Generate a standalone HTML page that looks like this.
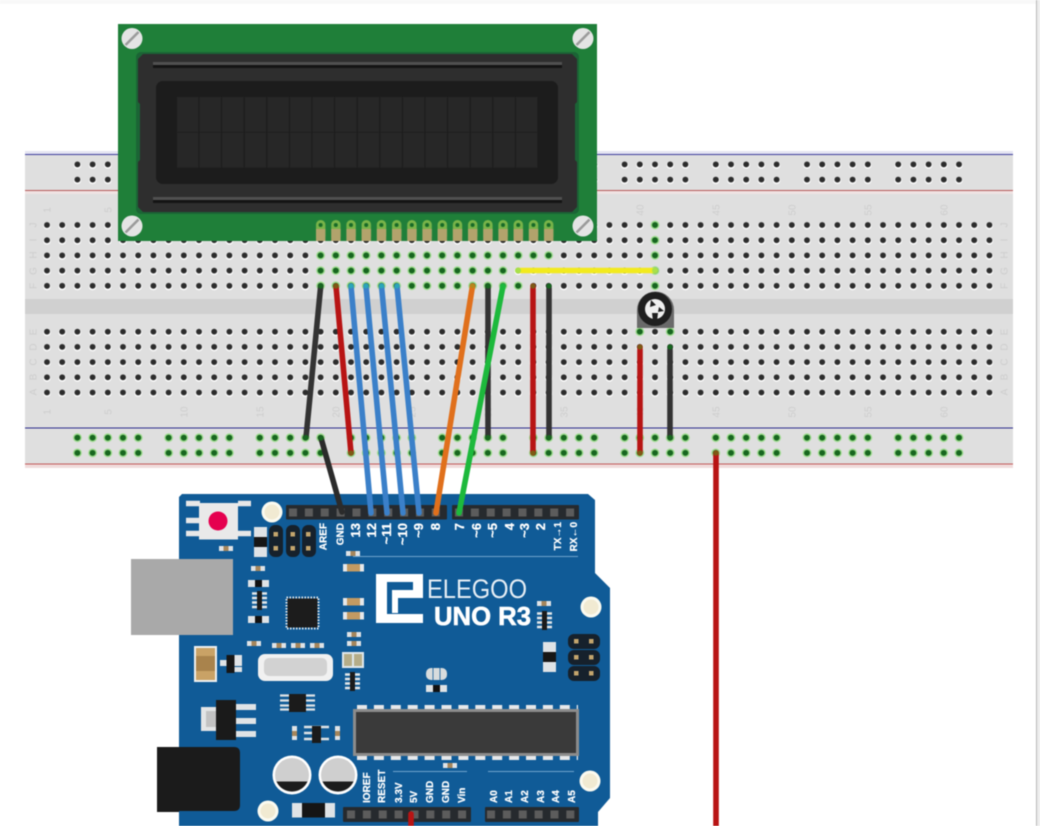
<!DOCTYPE html>
<html><head><meta charset="utf-8"><style>
html,body{margin:0;padding:0;background:#fff;width:1040px;height:826px;overflow:hidden}
svg{display:block;filter:blur(.6px)}
text{font-family:"Liberation Sans",sans-serif}
.n{font-size:10px;fill:#cdcdcd;text-anchor:middle}
.t{font-size:13px;font-weight:bold;fill:#fff;text-anchor:end;stroke:#fff;stroke-width:.25}
.s{font-size:10px;font-weight:bold;fill:#fff;text-anchor:end;stroke:#fff;stroke-width:.2}
.b{font-size:10px;font-weight:bold;fill:#fff;text-anchor:start;stroke:#fff;stroke-width:.2}
.w{stroke-width:5.6;stroke-linecap:round;fill:none}
</style></head><body>
<svg width="1040" height="826" viewBox="0 0 1040 826" xmlns="http://www.w3.org/2000/svg">
<defs>
<pattern id="h" patternUnits="userSpaceOnUse" x="39.4" y="217.4" width="15.2" height="15.2"><circle cx="7.6" cy="8.2" r="3.8" fill="#fff"/><circle cx="7.6" cy="7.6" r="3" fill="#2c2c2c"/></pattern>
<pattern id="h2" href="#h" y="324.1"/>
<pattern id="h3" href="#h" y="156.8"/>
<pattern id="g" patternUnits="userSpaceOnUse" x="39.4" y="217.4" width="15.2" height="15.2"><circle cx="7.6" cy="7.6" r="4.4" fill="#9ddc8e"/><circle cx="7.6" cy="7.6" r="3" fill="#17661f"/></pattern>
<pattern id="g2" href="#g" y="324.1"/>
<pattern id="g4" href="#g" y="430.1"/>
<pattern id="pin" patternUnits="userSpaceOnUse" x="313" y="220" width="15.2" height="21"><rect x="3" width="9.4" height="21" rx="4.7" fill="#79b449"/><rect x="3" y="9" width="9.4" height="12" fill="#b2a36c"/><circle cx="7.6" cy="5" r="2" fill="#176a27"/></pattern>
<pattern id="cell" patternUnits="userSpaceOnUse" x="177" y="97" width="22.6" height="35.7"><rect width="21.4" height="34.9" fill="#272727"/></pattern>
<pattern id="sq" patternUnits="userSpaceOnUse" x="285" y="505" width="15.87" height="15"><rect x="4" y="3.5" width="8" height="8" fill="#5c5c5c"/></pattern>
<pattern id="sq2" href="#sq" x="451"/>
<pattern id="sq3" href="#sq" x="343" y="807"/>
<pattern id="sq4" href="#sq" x="483" y="807"/>
<g id="r"><rect width="14" height="5" fill="#dfe3e6"/><rect x="4.5" width="5" height="5" fill="#a5865c"/></g>
<g id="c"><rect width="21" height="7.5" fill="#e6e8ea"/><rect x="4" width="13" height="7.5" fill="#c39a62"/></g>
<g id="ic"><rect width="15" height="19" fill="none"/><path d="M0 2.5H15M0 7H15M0 11.500H15M0 16H15" stroke="#e4e8ea" stroke-width="2.400"/><rect x="5" width="5" height="19" fill="#1b1b1b"/></g>
<g id="smd"><rect width="13" height="30" fill="#dfe3e6"/><rect y="10" width="13" height="10" fill="#161616"/></g>
<g id="scr"><circle r="10.500" fill="#e4e4e4"/><path d="M-6.500 6.500L6.500-6.500" stroke="#9a9a9a" stroke-width="2.500"/></g>
<g id="cap"><circle r="19.500" fill="#fff"/><circle r="17" fill="#cfcfcf"/><path d="M-15.500 6.500A17 17 0 0 0 15.500 6.500Z" fill="#1c1c1c"/></g>
<g id="hl"><circle r="10.500" fill="#fbfaf0"/><circle r="7.500" fill="#f1ead2"/></g>
<g id="gp"><rect width="4.500" height="4.500" fill="#c4a56d"/></g>
</defs>

<rect width="1040" height="826" fill="#fff"/>
<rect width="1036" height="4" fill="#f8f8f8"/>
<rect x="1036" width="1" height="826" fill="#b9b9b9"/>
<rect x="1037" width="3" height="826" fill="#ececec"/>

<!-- breadboard -->
<rect x="25" y="151" width="988" height="317" fill="#dfdfdf"/>
<rect x="25" y="299" width="988" height="15" fill="#d0d0d0"/>
<rect x="25" y="151" width="988" height="3" fill="#e4e4f2"/>
<rect x="25" y="191" width="988" height="3" fill="#efe3e3"/>
<rect x="25" y="464.500" width="988" height="3.500" fill="#f0dcdc"/>
<path d="M25 154.500H1013" stroke="#3d3d9c" stroke-width="1"/>
<path d="M25 190.500H1013" stroke="#b75a5a" stroke-width="1"/>
<path d="M25 428H1013" stroke="#2c2c8c" stroke-width="1"/>
<path d="M25 464H1013" stroke="#c05a5a" stroke-width="1"/>

<rect x="39.400" y="217.400" width="957.600" height="76" fill="url(#h)"/>
<rect x="39.400" y="324.100" width="957.600" height="76" fill="url(#h2)"/>
<g fill="url(#h3)">
<rect x="69.800" y="156.800" width="76" height="30.400"/><rect x="161" y="156.800" width="76" height="30.400"/><rect x="252.200" y="156.800" width="76" height="30.400"/><rect x="343.400" y="156.800" width="76" height="30.400"/><rect x="434.600" y="156.800" width="76" height="30.400"/><rect x="525.800" y="156.800" width="76" height="30.400"/><rect x="617" y="156.800" width="76" height="30.400"/><rect x="708.200" y="156.800" width="76" height="30.400"/><rect x="799.400" y="156.800" width="76" height="30.400"/><rect x="890.600" y="156.800" width="76" height="30.400"/>
</g>
<g fill="url(#g4)">
<rect x="69.800" y="430.100" width="76" height="30.400"/><rect x="161" y="430.100" width="76" height="30.400"/><rect x="252.200" y="430.100" width="76" height="30.400"/><rect x="343.400" y="430.100" width="76" height="30.400"/><rect x="434.600" y="430.100" width="76" height="30.400"/><rect x="525.800" y="430.100" width="76" height="30.400"/><rect x="617" y="430.100" width="76" height="30.400"/><rect x="708.200" y="430.100" width="76" height="30.400"/><rect x="799.400" y="430.100" width="76" height="30.400"/><rect x="890.600" y="430.100" width="76" height="30.400"/>
</g>
<g fill="url(#g)">
<rect x="313" y="247.800" width="243.200" height="15.200"/>
<rect x="313" y="263" width="197.600" height="15.200"/>
<rect x="313" y="278.200" width="212.800" height="15.200"/>
<rect x="647.400" y="217.400" width="15.200" height="76"/>
</g>
<g fill="url(#g2)"><rect x="632.200" y="324.100" width="15.200" height="15.200"/><rect x="662.600" y="324.100" width="15.200" height="15.200"/></g>

<!-- breadboard labels -->
<g class="n">
<text class="n" transform="translate(47,210) rotate(-90)" dy=".35em">1</text><text class="n" transform="translate(108,210) rotate(-90)" dy=".35em">5</text><text class="n" transform="translate(640,210) rotate(-90)" dy=".35em">40</text><text class="n" transform="translate(716,210) rotate(-90)" dy=".35em">45</text><text class="n" transform="translate(792,210) rotate(-90)" dy=".35em">50</text><text class="n" transform="translate(868,210) rotate(-90)" dy=".35em">55</text><text class="n" transform="translate(944,210) rotate(-90)" dy=".35em">60</text>
<text class="n" transform="translate(47,412) rotate(-90)" dy=".35em">1</text><text class="n" transform="translate(108,412) rotate(-90)" dy=".35em">5</text><text class="n" transform="translate(184,412) rotate(-90)" dy=".35em">10</text><text class="n" transform="translate(260,412) rotate(-90)" dy=".35em">15</text><text class="n" transform="translate(336,412) rotate(-90)" dy=".35em">20</text><text class="n" transform="translate(412,412) rotate(-90)" dy=".35em">25</text><text class="n" transform="translate(488,412) rotate(-90)" dy=".35em">30</text><text class="n" transform="translate(564,412) rotate(-90)" dy=".35em">35</text><text class="n" transform="translate(640,412) rotate(-90)" dy=".35em">40</text><text class="n" transform="translate(716,412) rotate(-90)" dy=".35em">45</text><text class="n" transform="translate(792,412) rotate(-90)" dy=".35em">50</text><text class="n" transform="translate(868,412) rotate(-90)" dy=".35em">55</text><text class="n" transform="translate(944,412) rotate(-90)" dy=".35em">60</text>
<text class="n" transform="translate(33,225) rotate(-90)" dy=".35em">J</text><text class="n" transform="translate(33,240) rotate(-90)" dy=".35em">I</text><text class="n" transform="translate(33,255) rotate(-90)" dy=".35em">H</text><text class="n" transform="translate(33,271) rotate(-90)" dy=".35em">G</text><text class="n" transform="translate(33,286) rotate(-90)" dy=".35em">F</text><text class="n" transform="translate(33,332) rotate(-90)" dy=".35em">E</text><text class="n" transform="translate(33,347) rotate(-90)" dy=".35em">D</text><text class="n" transform="translate(33,362) rotate(-90)" dy=".35em">C</text><text class="n" transform="translate(33,377) rotate(-90)" dy=".35em">B</text><text class="n" transform="translate(33,392) rotate(-90)" dy=".35em">A</text>
<text class="n" transform="translate(1004,225) rotate(-90)" dy=".35em">J</text><text class="n" transform="translate(1004,240) rotate(-90)" dy=".35em">I</text><text class="n" transform="translate(1004,255) rotate(-90)" dy=".35em">H</text><text class="n" transform="translate(1004,271) rotate(-90)" dy=".35em">G</text><text class="n" transform="translate(1004,286) rotate(-90)" dy=".35em">F</text><text class="n" transform="translate(1004,332) rotate(-90)" dy=".35em">E</text><text class="n" transform="translate(1004,347) rotate(-90)" dy=".35em">D</text><text class="n" transform="translate(1004,362) rotate(-90)" dy=".35em">C</text><text class="n" transform="translate(1004,377) rotate(-90)" dy=".35em">B</text><text class="n" transform="translate(1004,392) rotate(-90)" dy=".35em">A</text>
</g>

<!-- LCD -->
<rect x="118" y="24" width="479" height="217" fill="#1f7f39"/>
<rect x="136" y="52" width="443" height="162" rx="5" fill="#1b6435"/>
<path d="M143 54H572L577 59V102L575 104V160L577 162V207L572 212H143L138 207V162L140 160V104L138 102V59Z" fill="#2e2e2e"/>
<rect x="153" y="62" width="409" height="3" fill="#505050"/><rect x="153" y="65" width="409" height="3" fill="#141414"/>
<rect x="153" y="197" width="409" height="3" fill="#505050"/><rect x="153" y="200" width="409" height="3" fill="#141414"/>
<rect x="156" y="81" width="402" height="103" rx="7" fill="#1c1c1c"/>
<rect x="177" y="97" width="361" height="71" fill="url(#cell)"/>
<use href="#scr" x="132" y="38.500"/><use href="#scr" x="583" y="38.500"/><use href="#scr" x="132" y="226"/><use href="#scr" x="583" y="226"/>
<rect x="313" y="220" width="243.200" height="21" fill="url(#pin)"/>

<!-- Arduino -->
<path d="M182 494H588L595 500V573L610 588V798L598 812V826H179V497Z" fill="#105b97"/>
<rect x="131" y="559" width="102" height="76" fill="#a9a9a9"/>
<path d="M157 747H234Q240 747 240 753V805Q240 811 234 811H179V812H157Z" fill="#1b1b1b"/>

<!-- reset -->
<path d="M186 503.500H200M238 503.500H251M186 520.500H200M186 533.500H200M238 533.500H251" stroke="#e8e8e8" stroke-width="5.500"/>
<rect x="199" y="503" width="39" height="36.500" fill="#e9e9e9"/>
<circle cx="218" cy="521" r="9.500" fill="#e5004f"/>
<use href="#hl" x="272" y="512"/><use href="#hl" x="268" y="811"/><use href="#hl" x="591" y="607"/><use href="#hl" x="590" y="781"/>

<!-- headers -->
<rect x="286" y="505" width="161" height="14.500" rx="1" fill="#262a2e"/>
<rect x="452" y="505" width="127" height="14.500" rx="1" fill="#262a2e"/>
<rect x="343" y="807" width="128" height="15" rx="1" fill="#262a2e"/>
<rect x="485" y="807" width="94" height="15" rx="1" fill="#262a2e"/>
<rect x="286" y="505" width="161" height="15" fill="url(#sq)"/>
<rect x="452" y="505" width="127" height="15" fill="url(#sq2)"/>
<rect x="343" y="807" width="128" height="15" fill="url(#sq3)"/>
<rect x="485" y="807" width="94" height="15" fill="url(#sq4)"/>

<!-- ICSP -->
<rect x="269" y="525" width="14" height="32" rx="6" fill="#16212c"/><rect x="286" y="525" width="14" height="32" rx="6" fill="#16212c"/><rect x="302" y="525" width="14" height="32" rx="6" fill="#16212c"/>
<use href="#gp" x="273.500" y="532"/><use href="#gp" x="273.500" y="546"/><use href="#gp" x="290.500" y="532"/><use href="#gp" x="290.500" y="546"/><use href="#gp" x="306" y="532"/><use href="#gp" x="306" y="546"/>
<rect x="568" y="634" width="32" height="15" rx="6" fill="#16212c"/><rect x="568" y="650" width="32" height="15" rx="6" fill="#16212c"/><rect x="568" y="666" width="32" height="15" rx="6" fill="#16212c"/>
<use href="#gp" x="574" y="639"/><use href="#gp" x="589" y="639"/><use href="#gp" x="574" y="655"/><use href="#gp" x="589" y="655"/><use href="#gp" x="574" y="671"/><use href="#gp" x="589" y="671"/>

<use href="#smd" x="254" y="527"/><use href="#smd" x="543" y="642"/>

<!-- small parts -->
<use href="#r" x="219" y="546"/><use href="#r" x="251" y="566"/><use href="#r" x="346" y="551"/><use href="#r" x="347" y="632"/><use href="#r" x="347" y="641"/>
<use href="#r" x="247" y="641"/><use href="#r" x="272" y="643"/><use href="#r" x="291" y="643"/><use href="#r" x="310" y="643"/><use href="#r" x="537" y="601"/><use href="#r" x="443" y="763"/>
<use href="#c" x="343" y="564"/><use href="#c" x="343" y="598"/><use href="#c" x="343" y="612"/>
<rect x="248" y="580" width="21" height="7" fill="#dfe3e6"/><rect x="255" y="580" width="7" height="7" fill="#111"/>
<rect x="248" y="616" width="21" height="7" fill="#dfe3e6"/><rect x="255" y="616" width="7" height="7" fill="#111"/>
<use href="#ic" x="252" y="591"/><use href="#ic" x="345" y="672"/><use href="#ic" x="537" y="611"/>

<rect x="342" y="652" width="22" height="16" fill="#dfe8ec"/><rect x="344" y="654" width="8" height="12" fill="#b5ad88"/><rect x="354" y="654" width="8" height="12" fill="#b5ad88"/>

<!-- QFN -->
<rect x="286.500" y="597.500" width="32" height="31" fill="none" stroke="#e0e6ea" stroke-width="2" stroke-dasharray="1.500 1.500"/>
<rect x="287.500" y="598.500" width="30" height="29" fill="#1c1c1c"/>

<!-- tantalum -->
<rect x="194" y="646" width="23" height="36" fill="#eef0f0"/><rect x="196" y="648" width="19" height="32" fill="#c9a266"/><rect x="196" y="656" width="19" height="15" fill="#a9834c"/>
<!-- sot -->
<rect x="220" y="660" width="22" height="6" fill="#dfe3e6"/><rect x="230" y="655" width="12" height="5" fill="#dfe3e6"/><rect x="230" y="667" width="12" height="5" fill="#dfe3e6"/><rect x="226.500" y="655" width="8" height="18" fill="#161616"/>

<!-- crystal -->
<rect x="258" y="654" width="75" height="27" rx="7" fill="#f1f1f1"/><rect x="264" y="658" width="63" height="18" rx="5" fill="#d2d2d2"/>

<!-- IC8 -->
<path d="M280 695.500H315M280 700.500H315M280 705.500H315M280 709.500H315" stroke="#dfe3e6" stroke-width="2.200"/><rect x="289" y="694" width="17" height="18" fill="#1b1b1b"/>

<!-- regulator -->
<rect x="201" y="707" width="17" height="24" fill="#e3e5e6"/><rect x="206" y="711" width="12" height="16" fill="#c2c2c2"/>
<rect x="236" y="704" width="20" height="6" fill="#dfe3e6"/><rect x="236" y="718" width="20" height="6" fill="#dfe3e6"/><rect x="236" y="731" width="20" height="6" fill="#dfe3e6"/>
<rect x="216" y="700" width="20" height="40" fill="#1a1a1a"/>

<!-- small sot row -->
<rect x="292" y="726" width="5" height="14" fill="#dfe3e6"/><rect x="292" y="731" width="5" height="5" fill="#a5865c"/>
<rect x="335" y="726" width="5" height="14" fill="#dfe3e6"/><rect x="335" y="731" width="5" height="5" fill="#a5865c"/>
<path d="M304 727H329M304 733H318M304 739H329" stroke="#dfe3e6" stroke-width="2.500"/><rect x="312" y="726" width="9" height="17" fill="#1a1a1a"/>

<!-- caps -->
<use href="#cap" x="292" y="775"/><use href="#cap" x="338" y="775"/>
<rect x="292" y="803" width="43" height="14.500" fill="#dfe3e6"/><rect x="302" y="803" width="23" height="14.500" fill="#151515"/>

<!-- crystal blob -->
<rect x="426" y="668" width="21" height="12" rx="5" fill="#d8dcdd"/><path d="M433 668V680M440 668V680" stroke="#105b97" stroke-width=".8"/>
<rect x="426" y="685" width="21" height="7" fill="#dfe3e6"/><rect x="433" y="685" width="7" height="7" fill="#111"/>

<!-- ATmega -->
<path d="M357 707H578M357 758H578" stroke="#e6e8ea" stroke-width="4" stroke-dasharray="10 6.900"/>
<rect x="353" y="709" width="226" height="47" fill="#8c8c8c"/>
<rect x="356" y="712" width="220" height="41" fill="#3a3a3a"/>

<!-- silk lines -->
<path d="M353 556.500H578M393 771.500H467M488 771.500H574" stroke="#6ea3cc" stroke-width="1"/>

<!-- logo -->
<path fill="#fff" d="M376 574H423V598H398V613H392V590H413V582H387V614H423V623H376Z"/>
<text x="427" y="598" font-size="27" fill="#e6eef5" textLength="100" lengthAdjust="spacingAndGlyphs">ELEGOO</text>
<text x="434" y="625" font-size="26" font-weight="bold" fill="#fff" stroke="#fff" stroke-width=".6" textLength="97" lengthAdjust="spacingAndGlyphs">UNO R3</text>

<!-- pin labels -->
<text class="s" transform="translate(326.500,523) rotate(-90)">AREF</text>
<text class="s" transform="translate(343.500,523) rotate(-90)">GND</text>
<text class="t" transform="translate(360,523) rotate(-90)">13</text>
<text class="t" transform="translate(376,523) rotate(-90)">12</text>
<text class="t" transform="translate(391,523) rotate(-90)">~11</text>
<text class="t" transform="translate(407,523) rotate(-90)">~10</text>
<text class="t" transform="translate(423,523) rotate(-90)">~9</text>
<text class="t" transform="translate(440,523) rotate(-90)">8</text>
<text class="t" transform="translate(464,523) rotate(-90)">7</text>
<text class="t" transform="translate(481,523) rotate(-90)">~6</text>
<text class="t" transform="translate(497,523) rotate(-90)">~5</text>
<text class="t" transform="translate(514,523) rotate(-90)">4</text>
<text class="t" transform="translate(529,523) rotate(-90)">~3</text>
<text class="t" transform="translate(545,523) rotate(-90)">2</text>
<text class="s" transform="translate(561,522) rotate(-90)">TX→1</text>
<text class="s" transform="translate(577,522) rotate(-90)">RX←0</text>

<text class="b" transform="translate(370,803) rotate(-90)">IOREF</text>
<text class="b" transform="translate(385,803) rotate(-90)">RESET</text>
<text class="b" transform="translate(402,803) rotate(-90)">3.3V</text>
<text class="b" transform="translate(417,803) rotate(-90)">5V</text>
<text class="b" transform="translate(433,803) rotate(-90)">GND</text>
<text class="b" transform="translate(449,803) rotate(-90)">GND</text>
<text class="b" transform="translate(465,803) rotate(-90)">Vin</text>
<text class="b" transform="translate(497,803) rotate(-90)">A0</text>
<text class="b" transform="translate(512,803) rotate(-90)">A1</text>
<text class="b" transform="translate(528,803) rotate(-90)">A2</text>
<text class="b" transform="translate(544,803) rotate(-90)">A3</text>
<text class="b" transform="translate(559,803) rotate(-90)">A4</text>
<text class="b" transform="translate(575,803) rotate(-90)">A5</text>

<!-- potentiometer -->
<path d="M637 328V310A18 18 0 0 1 674 310V328Z" fill="#6a6a6a"/>
<circle cx="655" cy="309" r="17" fill="#1f1f1f"/>
<circle cx="655" cy="309" r="10" fill="#efefef"/>
<path d="M651 300L656 305L650 307ZM659 307L664 311L658 312ZM652 313L658 313L657 321L653 321Z" fill="#1f1f1f"/>

<!-- wires -->
<path class="w" d="M320.700 286L306 437.500" stroke="#333"/>
<path class="w" d="M321 438L342 512" stroke="#2b2b2b"/>
<path class="w" d="M336 286L351 453" stroke="#b81414"/>
<path class="w" d="M351 286L371 513" stroke="#3b80c9"/>
<path class="w" d="M366 286L387 513" stroke="#3b80c9"/>
<path class="w" d="M381.500 286L403 513" stroke="#3b80c9"/>
<path class="w" d="M397 286L419 513" stroke="#3b80c9"/>
<path class="w" d="M488 286V437.500" stroke="#333"/>
<path class="w" d="M472.500 286L436 513" stroke="#e0701c"/>
<path class="w" d="M503 286L459 513" stroke="#1db93c"/>
<path class="w" d="M533 286V453" stroke="#b81414"/>
<path class="w" d="M549 286V437.500" stroke="#333"/>
<path class="w" d="M640 347V453" stroke="#b81414"/>
<path class="w" d="M670 347V437.500" stroke="#333"/>
<path class="w" d="M716 453V830" stroke="#b81414"/>
<path class="w" d="M518 270.500H655" stroke="#f2ea1e"/>
<path class="w" d="M411 814V830" stroke="#b81414"/>
<g fill="#17661f"><circle cx="320.700" cy="286" r="2.600"/><circle cx="306" cy="437.500" r="2.600"/><circle cx="321" cy="438" r="2.600"/><circle cx="488" cy="286" r="2.600"/><circle cx="488" cy="437.500" r="2.600"/><circle cx="549" cy="286" r="2.600"/><circle cx="549" cy="437.500" r="2.600"/><circle cx="670" cy="347" r="2.600"/><circle cx="670" cy="437.500" r="2.600"/></g>
<g fill="#7d5a14"><circle cx="336" cy="286" r="2.600"/><circle cx="351" cy="453" r="2.600"/><circle cx="533" cy="286" r="2.600"/><circle cx="533" cy="453" r="2.600"/><circle cx="640" cy="347" r="2.600"/><circle cx="640" cy="453" r="2.600"/><circle cx="716" cy="453" r="2.600"/><circle cx="472.500" cy="286" r="2.200" fill="#b58a1c"/></g>
<g fill="#2aa7b8"><circle cx="351" cy="286" r="2.400"/><circle cx="366" cy="286" r="2.400"/><circle cx="381.500" cy="286" r="2.400"/><circle cx="397" cy="286" r="2.400"/></g>
<g fill="#a8e04a"><circle cx="518" cy="270.500" r="3"/><circle cx="655" cy="270.500" r="3"/></g>
</svg>
</body></html>
